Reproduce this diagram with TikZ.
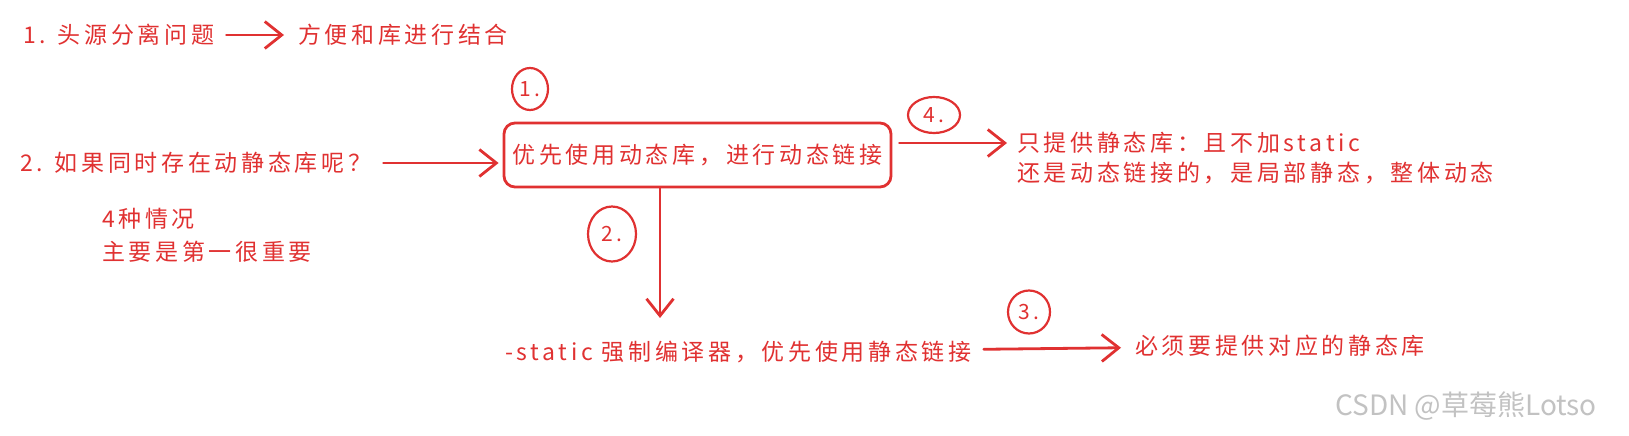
\documentclass[tikz,border=0pt]{standalone}
\usepackage{fontspec}
\setmainfont{Noto Sans CJK SC}[LetterSpace=16]
\newfontfamily\markfont{Noto Sans CJK SC}
\usetikzlibrary{arrows.meta,positioning,shapes.geometric}
\definecolor{pen}{HTML}{E03131}
\definecolor{markgray}{HTML}{C2C2C2}

\begin{document}
\begin{tikzpicture}[
  x=1pt,y=-1pt,
  every node/.style={font=\fontsize{23}{30}\selectfont,text=pen,inner sep=0pt},
  note/.style={anchor=west},
  choice/.style={draw=pen,line width=2.8pt,rounded corners=11pt,minimum width=387pt,minimum height=64pt},
  badge/.style={ellipse,draw=pen,line width=2.2pt,font=\fontsize{21}{21}\selectfont},
  arrow/.style={draw=pen,line width=2.8pt,line cap=round,
    -{Straight Barb[length=17pt,width=27pt,line width=2.8pt]},shorten <=12pt,shorten >=14pt}
]
\useasboundingbox (0,0) rectangle (1629,436);

% first question
\node[note] (split) at (23,35) {1. 头源分离问题};
\node[note] (merge) at (298,35) {方便和库进行结合};
\draw[arrow] (split) -- (merge);

% second question and the main box
\node[note] (both) at (20,163) {2. 如果同时存在动静态库呢？};
\node[choice] (prio) at (697.5,155) {优先使用动态库，进行动态链接};
\node[note,align=left,font=\fontsize{23}{33}\selectfont] (cases) at (102,235) {4种情况\\主要是第一很重要};
\draw[arrow,shorten >=4pt] (both.east) -- (both.east -| prio.west);

% case 1
\node[badge,minimum width=36pt,minimum height=42pt] (c1) at (530,89) {1.};

% case 2
\coordinate (tip) at (660,318);
\node[badge,minimum width=48pt,minimum height=55pt] (c2) at (612,234) {2.};
\node[note] (static) at (505,352) {-static 强制编译器，优先使用静态链接};
\draw[arrow,shorten <=0pt,shorten >=0pt] (prio.south -| tip) -- (tip);

% case 3
\node[badge,minimum width=42pt,minimum height=43pt] (c3) at (1029,312) {3.};
\node[note] (must) at (1135,346) {必须要提供对应的静态库};
\draw[arrow] (static) -- (must);

% case 4
\node[badge,minimum width=52pt,minimum height=36pt] (c4) at (934,115) {4.};
\node[note] (only) at (1017,143) {只提供静态库：且不加static};
\node[note] (still) at (1017,173) {还是动态链接的，是局部静态，整体动态};
\draw[arrow,shorten <=7pt,shorten >=10pt] (prio.east |- only.west) -- (only.west);

% watermark
\node[note,text=markgray,font=\markfont\fontsize{28}{28}\selectfont] (mark) at (1335,406) {CSDN @草莓熊Lotso};
\end{tikzpicture}
\end{document}
